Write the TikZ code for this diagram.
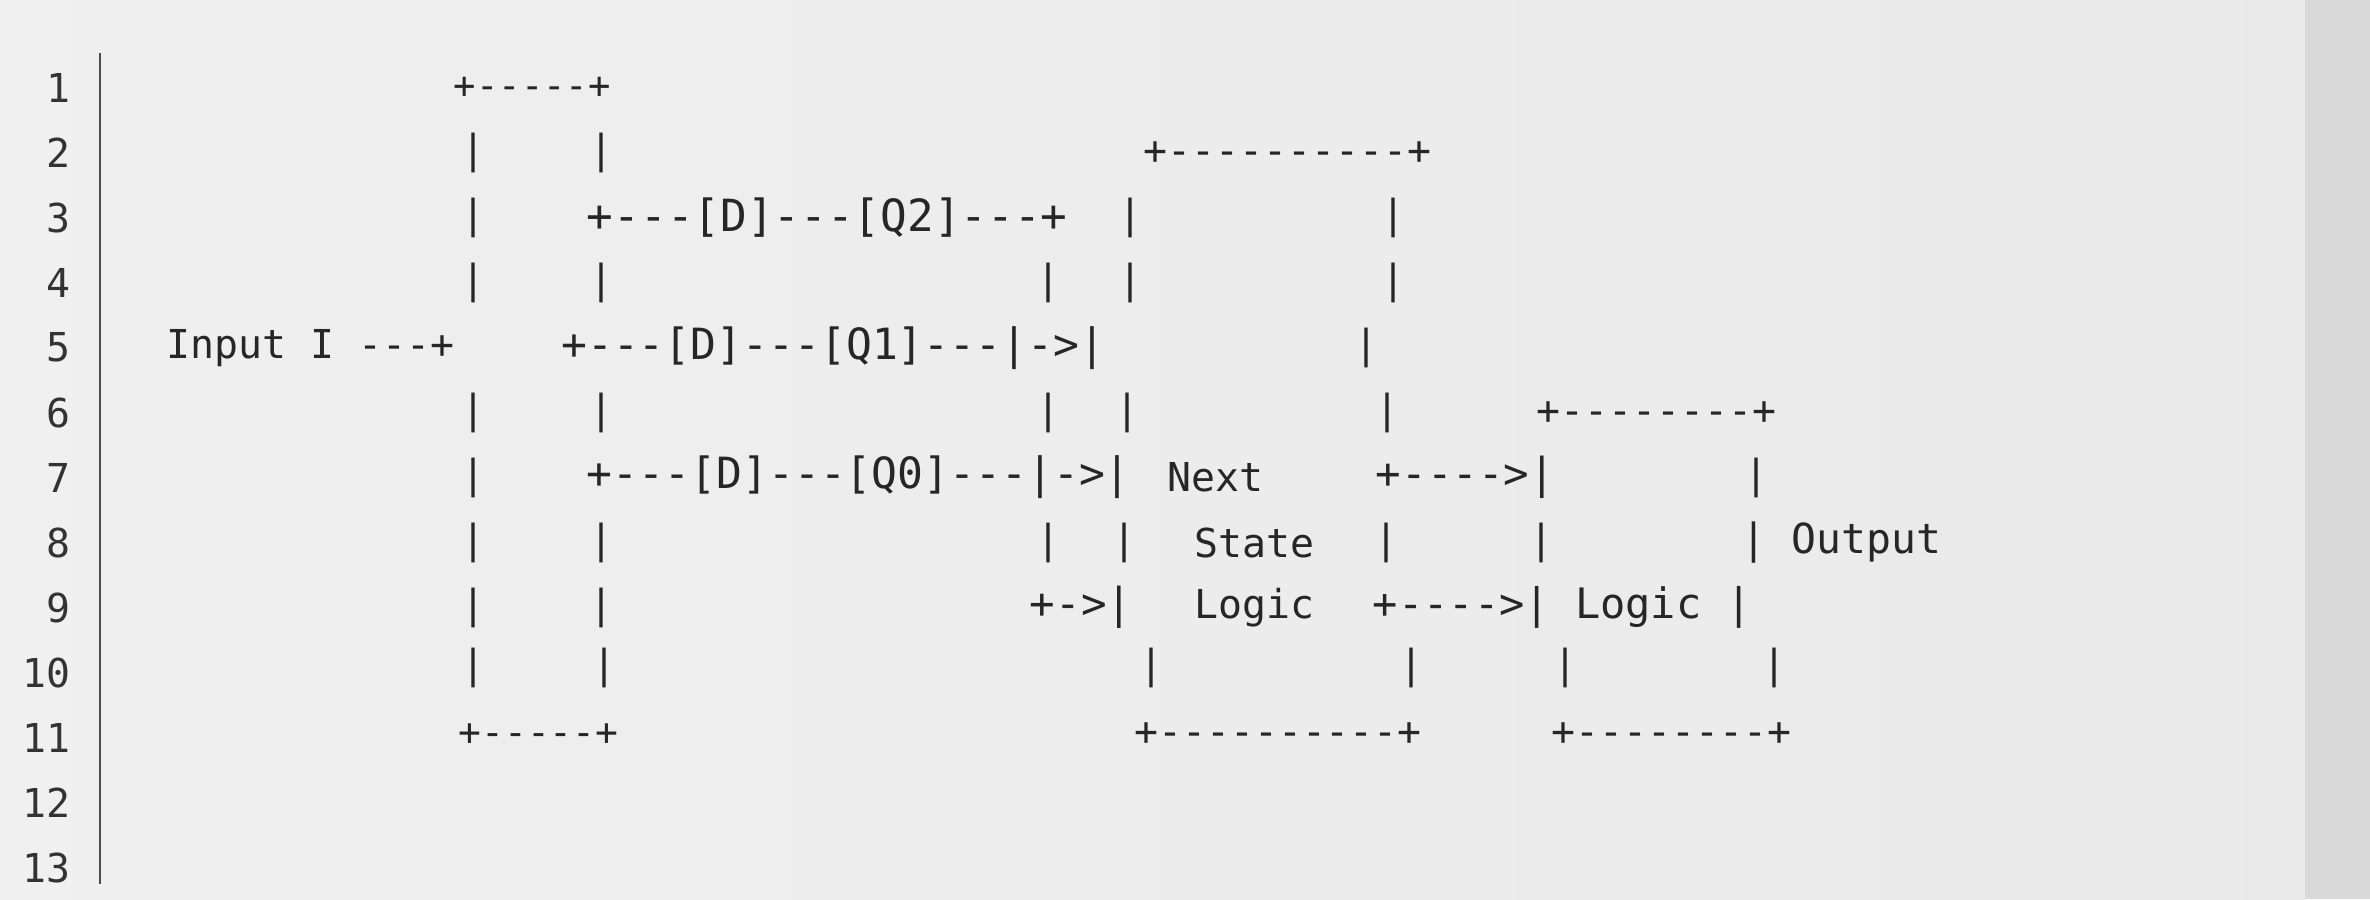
\documentclass[tikz,border=0pt]{standalone}
\usepackage{fontspec}
\setmonofont{DejaVu Sans Mono}
\begin{document}
\begin{tikzpicture}[x=0.02cm,y=-0.02cm,
  t/.style={font=\ttfamily\fontsize{15}{15}\selectfont,text=black!85,inner sep=0pt,anchor=center},
  w/.style={font=\ttfamily\fontsize{#1}{#1}\selectfont,text=black!85,inner sep=0pt,anchor=west},
  ln/.style={font=\ttfamily\fontsize{15}{15}\selectfont,text=black!80,inner sep=0pt,anchor=east}]
\useasboundingbox (0,0) rectangle (1568,595);
\shade[left color=gray!12,right color=gray!17] (0,0) rectangle (1525,595);
\fill[gray!30] (1525,0) rectangle (1568,595);
\draw[black!70,line width=0.7pt] (66,35) -- (66,585);
\foreach \i in {1,...,13} \node[ln] (n\i) at (47,{58+43*(\i-1)}) {\i};
% line 1
\node[w=14] (a1) at (300,58) {+-----+};
% line 2
\node[t] (b1) at (313,101) {|}; \node[t] (b2) at (398,101) {|};
\node[w=15] (b3) at (756,101) {+----------+};
% line 3
\node[t] (c1) at (313,144) {|}; \node[w=16.7] (c2) at (388,144) {+---[D]---[Q2]---+};
\node[t] (c3) at (748,144) {|}; \node[t] (c4) at (922,144) {|};
% line 4
\foreach \x [count=\k] in {313,398,694,748,922} \node[t] (d\k) at (\x,187) {|};
% line 5
\node[w=15] (e1) at (110,230) {Input I ---+};
\node[w=16.2] (e2) at (371,230) {+---[D]---[Q1]---|->|};
\node[t] (e3) at (904,230) {|};
% line 6
\foreach \x [count=\k] in {313,398,694,746,918} \node[t] (f\k) at (\x,273) {|};
\node[w=15] (f6) at (1016,273) {+--------+};
% line 7
\node[t] (g1) at (313,316) {|};
\node[w=16.2] (g2) at (388,316) {+---[D]---[Q0]---|->|};
\node[t] (g5) at (804,316) {Next};
\node[w=16] (g3) at (910,316) {+---->|};
\node[t] (g4) at (1162,316) {|};
% line 8
\foreach \x [count=\k] in {313,398,694,744,917,1020} \node[t] (h\k) at (\x,359) {|};
\node[t] (h7) at (830,359) {State};
\node[w=15.6] (h8) at (1152,359) {| Output};
% line 9
\node[t] (i1) at (313,402) {|}; \node[t] (i2) at (398,402) {|};
\node[w=16] (i3) at (681,402) {+->|};
\node[t] (i4) at (830,402) {Logic};
\node[w=15.8] (i5) at (908,402) {+---->| Logic |};
% line 10
\foreach \x [count=\k] in {313,400,762,934,1036,1174} \node[t] (j\k) at (\x,442) {|};
% line 11
\node[w=14.3] (k1) at (303,486) {+-----+};
\node[w=15] (k2) at (750,486) {+----------+};
\node[w=15] (k3) at (1026,486) {+--------+};
\end{tikzpicture}
\end{document}
